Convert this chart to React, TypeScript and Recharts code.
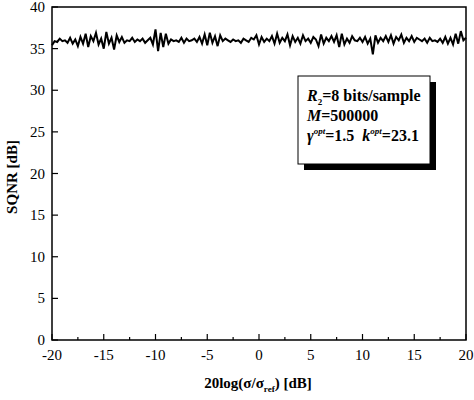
import React from "react";
import { LineChart, Line, XAxis, YAxis, ReferenceArea, Customized } from "recharts";

const xValues = [
  -20, -19.75, -19.5, -19.25, -19, -18.75, -18.5, -18.25, -18, -17.75,
  -17.5, -17.25, -17, -16.75, -16.5, -16.25, -16, -15.75, -15.5, -15.25,
  -15, -14.75, -14.5, -14.25, -14, -13.75, -13.5, -13.25, -13, -12.75,
  -12.5, -12.25, -12, -11.75, -11.5, -11.25, -11, -10.75, -10.5, -10.25,
  -10, -9.75, -9.5, -9.25, -9, -8.75, -8.5, -8.25, -8, -7.75,
  -7.5, -7.25, -7, -6.75, -6.5, -6.25, -6, -5.75, -5.5, -5.25,
  -5, -4.75, -4.5, -4.25, -4, -3.75, -3.5, -3.25, -3, -2.75,
  -2.5, -2.25, -2, -1.75, -1.5, -1.25, -1, -0.75, -0.5, -0.25,
  0, 0.25, 0.5, 0.75, 1, 1.25, 1.5, 1.75, 2, 2.25,
  2.5, 2.75, 3, 3.25, 3.5, 3.75, 4, 4.25, 4.5, 4.75,
  5, 5.25, 5.5, 5.75, 6, 6.25, 6.5, 6.75, 7, 7.25,
  7.5, 7.75, 8, 8.25, 8.5, 8.75, 9, 9.25, 9.5, 9.75,
  10, 10.25, 10.5, 10.75, 11, 11.25, 11.5, 11.75, 12, 12.25,
  12.5, 12.75, 13, 13.25, 13.5, 13.75, 14, 14.25, 14.5, 14.75,
  15, 15.25, 15.5, 15.75, 16, 16.25, 16.5, 16.75, 17, 17.25,
  17.5, 17.75, 18, 18.25, 18.5, 18.75, 19, 19.25, 19.5, 19.75,
  20,
];

const sqnrValues = [
  35.4, 35.9, 35.8, 36.2, 35.9, 36.0, 35.7, 36.3, 35.6, 36.1,
  35.3, 36.4, 35.6, 36.8, 35.2, 36.5, 35.9, 36.9, 35.5, 36.2,
  35.0, 37.0, 35.6, 36.3, 34.9, 36.6, 35.8, 36.4, 35.7, 36.0,
  35.9, 36.3, 35.8, 36.1, 35.9, 36.2, 35.7, 36.0, 36.3, 35.5,
  37.3, 34.7, 36.9, 35.2, 36.8, 35.6, 36.1, 35.9, 36.0, 35.8,
  36.3, 35.7, 36.2, 35.9, 36.0, 36.2, 35.8, 36.4, 35.6, 36.7,
  35.4, 36.9, 35.7, 36.5, 35.3, 36.6, 35.9, 36.2, 36.0, 35.8,
  36.1, 35.9, 36.0, 35.7, 36.2, 36.0, 35.8, 36.3, 36.1, 36.6,
  35.5, 36.4, 35.8, 36.2, 35.9, 36.5, 35.6, 36.8, 35.7, 36.3,
  35.9, 36.7, 35.4, 36.5, 35.8, 36.3, 35.6, 36.6, 35.9, 36.2,
  35.7, 36.4, 36.1, 35.3, 36.7, 35.6, 36.3, 35.9, 36.5, 35.8,
  36.6, 35.2, 36.8, 35.5, 36.2, 35.7, 36.5, 36.0, 35.9, 36.3,
  35.8, 36.4, 35.6, 36.2, 34.3, 36.6, 35.7, 36.3, 35.9, 36.5,
  35.8, 36.6, 35.6, 36.4, 36.0, 36.7, 35.7, 36.3, 35.9, 36.5,
  35.8, 36.3, 36.1, 35.9, 36.2, 35.7, 36.3, 35.9, 36.0, 35.8,
  36.2, 35.7, 36.4, 35.6, 36.3, 35.5, 36.8, 35.6, 37.1, 36.0,
  36.3,
];

const xTicks = [-20, -17.5, -15, -12.5, -10, -7.5, -5, -2.5, 0, 2.5, 5, 7.5, 10, 12.5, 15, 17.5, 20];
const yTicks = [0, 5, 10, 15, 20, 25, 30, 35, 40];

const data = xValues.map((x, i) => ({ x, y: sqnrValues[i] }));

const FONT = "'Liberation Serif', 'Times New Roman', serif";

const XTick = (props: any) => {
  const { x, y, payload } = props;
  const v = payload.value;
  const major = Math.abs(v % 5) < 1e-9;
  return (
    <g>
      <line x1={x} y1={y} x2={x} y2={y - (major ? 6 : 3)} stroke="#000" strokeWidth={1.2} />
      {major && (
        <text x={x} y={y + 20} textAnchor="middle" fontFamily={FONT} fontSize={15} fill="#000">
          {v}
        </text>
      )}
    </g>
  );
};

const YTick = (props: any) => {
  const { x, y, payload } = props;
  return (
    <g>
      <line x1={x} y1={y} x2={x + 6} y2={y} stroke="#000" strokeWidth={1.2} />
      <text x={x - 7} y={y + 5} textAnchor="end" fontFamily={FONT} fontSize={15} fill="#000">
        {payload.value}
      </text>
    </g>
  );
};

const Annotations = () => (
  <g fontFamily={FONT} fill="#000">
    <rect x={304} y={82} width={132} height={88} fill="#000" />
    <rect x={298} y={76} width={132} height={88} fill="#fff" stroke="#000" strokeWidth={1} />
    <text x={307} y={101} fontSize={16} fontWeight="bold">
      <tspan fontStyle="italic">R</tspan>
      <tspan fontSize={9} dy={4}>2</tspan>
      <tspan dy={-4}>=8 bits/sample</tspan>
    </text>
    <text x={307} y={121} fontSize={16} fontWeight="bold">
      <tspan fontStyle="italic">M</tspan>
      <tspan>=500000</tspan>
    </text>
    <text x={307} y={141} fontSize={16} fontWeight="bold">
      <tspan fontStyle="italic">γ</tspan>
      <tspan fontSize={9} fontStyle="italic" dy={-7}>opt</tspan>
      <tspan dy={7}>=1.5  </tspan>
      <tspan fontStyle="italic" dx={4}>k</tspan>
      <tspan fontSize={9} fontStyle="italic" dy={-7}>opt</tspan>
      <tspan dy={7}>=23.1</tspan>
    </text>
    <text x={258} y={388} textAnchor="middle" fontSize={15} fontWeight="bold">
      <tspan>20log(σ/σ</tspan>
      <tspan fontSize={9} dy={4}>ref</tspan>
      <tspan dy={-4}>) [dB]</tspan>
    </text>
    <text x={17} y={177} textAnchor="middle" fontSize={15} fontWeight="bold" transform="rotate(-90 17 177)">
      SQNR [dB]
    </text>
  </g>
);

export default function App() {
  return (
    <div style={{ position: "absolute", left: 0, top: 0, width: 474, height: 400, background: "#fff" }}>
      <LineChart width={474} height={400} data={data} margin={{ top: 7, right: 8, bottom: 0, left: 0 }}>
        <XAxis
          dataKey="x"
          type="number"
          domain={[-20, 20]}
          ticks={xTicks}
          interval={0}
          height={60}
          tickSize={0}
          tickMargin={0}
          tickLine={false}
          axisLine={false}
          tick={<XTick />}
        />
        <YAxis
          type="number"
          domain={[0, 40]}
          ticks={yTicks}
          interval={0}
          width={52}
          tickSize={0}
          tickMargin={0}
          tickLine={false}
          axisLine={false}
          tick={<YTick />}
        />
        <ReferenceArea x1={-20} x2={20} y1={0} y2={40} fill="none" fillOpacity={0} stroke="#000" strokeWidth={1.5} ifOverflow="visible" />
        <Line type="linear" dataKey="y" stroke="#000" strokeWidth={2} dot={false} isAnimationActive={false} />
        <Customized component={Annotations} />
      </LineChart>
    </div>
  );
}
